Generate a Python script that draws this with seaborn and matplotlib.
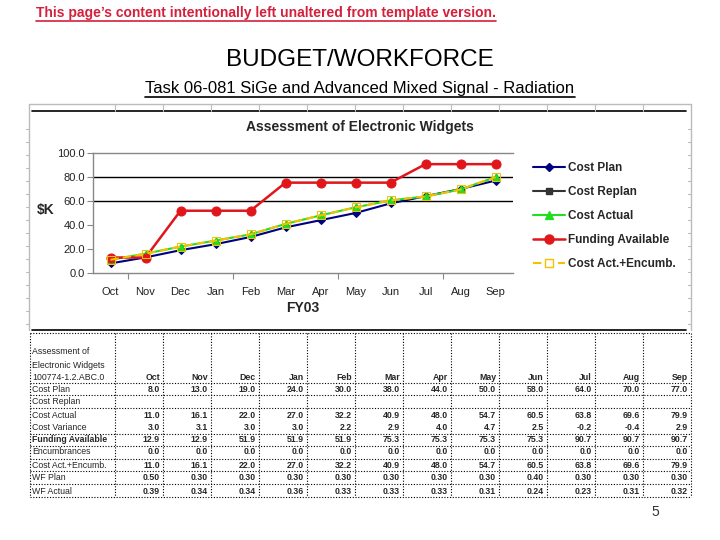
import numpy as np
import matplotlib
matplotlib.use("Agg")
import matplotlib.pyplot as plt
import seaborn as sns
from matplotlib.lines import Line2D

# data
months = ["Oct", "Nov", "Dec", "Jan", "Feb", "Mar", "Apr", "May", "Jun", "Jul", "Aug", "Sep"]
cost_plan = [8.0, 13.0, 19.0, 24.0, 30.0, 38.0, 44.0, 50.0, 58.0, 64.0, 70.0, 77.0]
cost_replan = []
cost_actual = [11.0, 16.1, 22.0, 27.0, 32.2, 40.9, 48.0, 54.7, 60.5, 63.8, 69.6, 79.9]
cost_variance = [3.0, 3.1, 3.0, 3.0, 2.2, 2.9, 4.0, 4.7, 2.5, -0.2, -0.4, 2.9]
funding_available = [12.9, 12.9, 51.9, 51.9, 51.9, 75.3, 75.3, 75.3, 75.3, 90.7, 90.7, 90.7]
encumbrances = [0.0, 0.0, 0.0, 0.0, 0.0, 0.0, 0.0, 0.0, 0.0, 0.0, 0.0, 0.0]
cost_act_encumb = [11.0, 16.1, 22.0, 27.0, 32.2, 40.9, 48.0, 54.7, 60.5, 63.8, 69.6, 79.9]
wf_plan = [0.50, 0.30, 0.30, 0.30, 0.30, 0.30, 0.30, 0.30, 0.40, 0.30, 0.30, 0.30]
wf_actual = [0.39, 0.34, 0.34, 0.36, 0.33, 0.33, 0.33, 0.31, 0.24, 0.23, 0.31, 0.32]
y_ticks = [0, 20, 40, 60, 80, 100]
grid_vals = [60, 80]

sns.set_theme(style="white")
plt.rcParams["font.family"] = ["Liberation Sans", "DejaVu Sans"]

W, H = 720, 540
fig = plt.figure(figsize=(7.2, 5.4), dpi=100)
fig.patch.set_facecolor("white")


def fx(x):
    return x / W


def fy(y):
    return 1 - y / H


def fline(x0, y0, x1, y1, **kw):
    fig.add_artist(Line2D([fx(x0), fx(x1)], [fy(y0), fy(y1)], transform=fig.transFigure, **kw))


# page header
t_note = fig.text(fx(36), fy(13), "This page\u2019s content intentionally left unaltered from template version.",
                  color="#D4203C", fontsize=10, fontweight="bold", va="center", ha="left")
fig.text(0.5, fy(60), "BUDGET/WORKFORCE", fontsize=17.5, ha="center", va="center", color="black")
t_sub = fig.text(0.5, fy(88), "Task 06-081 SiGe and Advanced Mixed Signal - Radiation",
                 fontsize=12, ha="center", va="center", color="black")

# chart box frame
gray = "#BBBBBB"
fline(29, 104, 691, 104, color=gray, lw=1)
fline(29, 104, 29, 330, color=gray, lw=1)
fline(691, 104, 691, 330, color=gray, lw=1)
fline(32, 111, 686, 111, color="black", lw=1.2)
fline(32, 330, 686, 330, color="black", lw=1.2)
col_edges = [30] + [115 + 48 * i for i in range(13)]
for xe in col_edges[1:-1]:
    fline(xe, 104, xe, 111, color=gray, lw=0.8)
for yy in range(129, 330, 13):
    fline(26, yy, 29, yy, color=gray, lw=0.8)
    fline(688, yy, 691, yy, color=gray, lw=0.8)

# chart
ax = fig.add_axes([fx(93), fy(273), fx(513) - fx(93), fy(153) - fy(273)])
x_pos = np.arange(len(months))

for g in grid_vals:
    ax.axhline(g, color="black", lw=1, zorder=1)

sns.lineplot(x=x_pos, y=cost_plan, ax=ax, color="#000080", marker="D", markersize=4,
             markeredgecolor="#000080", linewidth=1.5, legend=False, zorder=3)
sns.lineplot(x=x_pos, y=cost_actual, ax=ax, color="#22DD22", marker="^", markersize=6,
             markeredgecolor="#22CC22", linewidth=1.5, legend=False, zorder=4)
sns.lineplot(x=x_pos, y=funding_available, ax=ax, color="#E0161B", marker="o", markersize=6.5,
             markeredgecolor="#E0161B", linewidth=1.8, legend=False, zorder=5)
sns.lineplot(x=x_pos, y=cost_act_encumb, ax=ax, color="#F2C200", marker="s", markersize=6,
             markerfacecolor="none", markeredgecolor="#F2C200", linestyle=(0, (4, 2)),
             linewidth=1.5, legend=False, zorder=6)

ax.set_xlim(-0.5, 11.5)
ax.set_ylim(0, 100)
ax.set_xticks(x_pos, months)
ax.set_yticks(y_ticks, [f"{v:.1f}" for v in y_ticks])
ax.set_xticks([0.5, 3.5, 6.5, 9.5], minor=True)
ax.tick_params(axis="x", which="major", length=0, pad=10, labelsize=8, labelcolor="#222222")
ax.tick_params(axis="x", which="minor", length=4, width=0.8, color="#888888", direction="out", bottom=True)
ax.tick_params(axis="y", length=4, width=0.8, color="#888888", direction="out", left=True,
               labelsize=8, labelcolor="#222222", pad=2)
for side in ["left", "bottom", "top"]:
    ax.spines[side].set_color("#888888")
    ax.spines[side].set_linewidth(1)
ax.spines["right"].set_visible(False)
ax.set_xlabel("")
ax.set_ylabel("")
ax.set_facecolor("white")

fig.text(0.5, fy(127), "Assessment of Electronic Widgets", fontsize=10, fontweight="bold",
         ha="center", va="center")
fig.text(fx(46), fy(210), r"\$K", fontsize=10, fontweight="bold", ha="center", va="center")
fig.text(fx(303), fy(308), "FY03", fontsize=10, fontweight="bold", ha="center", va="center")

handles = [
    Line2D([], [], color="#000080", marker="D", markersize=4, lw=1.5),
    Line2D([], [], color="#333333", marker="s", markersize=5, lw=1.5),
    Line2D([], [], color="#22DD22", marker="^", markersize=6, lw=1.5),
    Line2D([], [], color="#E0161B", marker="o", markersize=6.5, lw=1.8),
    Line2D([], [], color="#F2C200", marker="s", markersize=6, markerfacecolor="white",
           linestyle=(0, (4, 2)), lw=1.5),
]
labels = ["Cost Plan", "Cost Replan", "Cost Actual", "Funding Available", "Cost Act.+Encumb."]
leg = fig.legend(handles, labels, loc="upper left", bbox_to_anchor=(fx(528), fy(157)),
                 frameon=False, handlelength=2.7, handletextpad=0.3, labelspacing=1.03,
                 prop={"size": 8.5, "weight": "bold"}, borderaxespad=0)

# data table
dot = dict(color="black", lw=0.8, linestyle=(0, (1, 1.5)))
fline(30, 333, 691, 333, **dot)
for yy in [383, 395, 408, 434, 446, 459, 471, 484, 497]:
    fline(30, yy, 691, yy, **dot)
for xe in col_edges:
    fline(xe, 333, xe, 497, **dot)

fs = 6.3
fig.text(fx(32), fy(352), "Assessment of", fontsize=fs, va="center")
fig.text(fx(32), fy(365), "Electronic Widgets", fontsize=fs, va="center")
fig.text(fx(32), fy(377), "100774-1.2.ABC.0", fontsize=fs, va="center")
for i, m in enumerate(months):
    fig.text(fx(col_edges[i + 2] - 3), fy(377), m, fontsize=fs, fontweight="bold",
             va="center", ha="right")

rows = [
    ("Cost Plan", cost_plan, "{:.1f}", 389),
    ("Cost Replan", cost_replan, "{:.1f}", 402),
    ("Cost Actual", cost_actual, "{:.1f}", 415),
    ("Cost Variance", cost_variance, "{:.1f}", 428),
    ("Funding Available", funding_available, "{:.1f}", 440),
    ("Encumbrances", encumbrances, "{:.1f}", 452),
    ("Cost Act.+Encumb.", cost_act_encumb, "{:.1f}", 465),
    ("WF Plan", wf_plan, "{:.2f}", 478),
    ("WF Actual", wf_actual, "{:.2f}", 491),
]
for name, vals, fmt, yy in rows:
    fig.text(fx(32), fy(yy), name, fontsize=fs, va="center",
             fontweight="bold" if name == "Funding Available" else "normal")
    for i, v in enumerate(vals):
        fig.text(fx(col_edges[i + 2] - 3), fy(yy), fmt.format(v), fontsize=fs,
                 fontweight="bold", va="center", ha="right")

fig.text(fx(655), fy(512), "5", fontsize=10, color="#333333", ha="center", va="center")

# underlines for the header texts
fig.canvas.draw()
r = fig.canvas.get_renderer()
for t, col, lw in [(t_note, "#D4203C", 1.2), (t_sub, "black", 1.2)]:
    bb = t.get_window_extent(r)
    fig.add_artist(Line2D([bb.x0 / W, bb.x1 / W], [(bb.y0 - 1) / H, (bb.y0 - 1) / H],
                          transform=fig.transFigure, color=col, lw=lw))

fig.savefig("out.png", dpi=100)
